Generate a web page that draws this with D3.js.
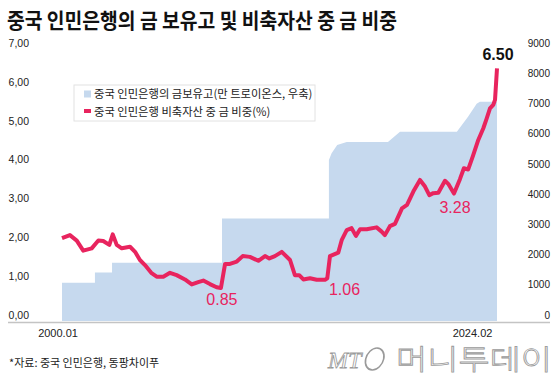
<!DOCTYPE html>
<html>
<head>
<meta charset="utf-8">
<script src="https://cdn.jsdelivr.net/npm/d3@7"></script>
<style>
  body { margin: 0; background: #fff; }
  svg { font-family: "Liberation Sans", Arial, sans-serif; }
</style>
</head>
<body>
<svg id="chart" width="560" height="384"></svg>
<script>
// 중국 인민은행 금보유고 (만 트로이온스, 우축)
var goldYears = [2000.00, 2001.83, 2001.83, 2002.78, 2002.78, 2008.89, 2008.89, 2014.83, 2014.83,
                 2014.98, 2015.29, 2015.82, 2018.11, 2018.78, 2021.94, 2022.56, 2023.04, 2023.22, 2024.17];
var goldValues = [1267, 1267, 1608, 1608, 1929, 1929, 3389, 3389, 5331,
                  5550, 5820, 5924, 5924, 6264, 6264, 6760, 7190, 7258, 7258];

// 비축자산 중 금 비중 (%)
var shareYears = [2000.00, 2000.44, 2000.82, 2001.18, 2001.65, 2002.02, 2002.29, 2002.63, 2002.82, 2003.04,
                  2003.32, 2003.78, 2004.06, 2004.33, 2004.61, 2004.98, 2005.26, 2005.63, 2006.00, 2006.37,
                  2006.83, 2007.21, 2007.57, 2007.85, 2008.22, 2008.59, 2008.83, 2009.06, 2009.33, 2009.71,
                  2010.04, 2010.44, 2010.91, 2011.28, 2011.52, 2011.83, 2012.21, 2012.67, 2012.94, 2013.18,
                  2013.41, 2013.78, 2014.15, 2014.61, 2014.74, 2014.89, 2015.35, 2015.54, 2015.82, 2016.09,
                  2016.33, 2016.56, 2016.93, 2017.48, 2017.76, 2017.94, 2018.22, 2018.50, 2018.89, 2019.17,
                  2019.52, 2019.89, 2020.17, 2020.41, 2020.63, 2020.91, 2021.28, 2021.46, 2021.78, 2022.11,
                  2022.33, 2022.57, 2022.82, 2023.13, 2023.41, 2023.59, 2023.78, 2023.96, 2024.06, 2024.17];
var shareValues = [2.13, 2.21, 2.07, 1.81, 1.87, 2.07, 2.06, 1.96, 2.23, 1.96,
                   1.87, 1.91, 1.78, 1.57, 1.44, 1.23, 1.14, 1.14, 1.24, 1.18,
                   1.07, 0.94, 1.00, 1.04, 0.95, 0.87, 0.85, 1.47, 1.47, 1.53,
                   1.67, 1.65, 1.55, 1.67, 1.61, 1.67, 1.78, 1.57, 1.18, 1.18,
                   1.07, 1.10, 1.06, 1.06, 1.10, 1.67, 1.76, 2.08, 2.34, 2.39,
                   2.19, 2.36, 2.36, 2.41, 2.30, 2.21, 2.44, 2.50, 2.90, 2.99,
                   3.33, 3.63, 3.46, 3.24, 3.29, 3.30, 3.61, 3.53, 3.28, 3.65,
                   3.93, 3.90, 4.23, 4.66, 4.96, 5.20, 5.47, 5.56, 5.69, 6.50];

var leftTicks = [0, 1, 2, 3, 4, 5, 6, 7];
var rightTicks = [0, 1000, 2000, 3000, 4000, 5000, 6000, 7000, 8000, 9000];
var xTickYears = [2000.00, 2024.17];
var xTickLabels = ['2000.01', '2024.02'];

// 주요 값 표시 (최저점, 최신값)
var calloutYears = [2008.83, 2014.61, 2021.78, 2024.17];
var calloutValues = [0.85, 1.06, 3.28, 6.50];

var title = '중국 인민은행의 금 보유고 및 비축자산 중 금 비중';
var legendLabels = ['중국 인민은행의 금보유고(만 트로이온스, 우축)', '중국 인민은행 비축자산 중 금 비중(%)'];
var source = '*자료: 중국 인민은행, 동팡차이푸';

var pink = '#e8245e',
    blue = '#c6d9ee',
    krFont = '"Noto Sans CJK KR", sans-serif';

var svg = d3.select('#chart');

var x = d3.scaleLinear().domain([2000, 2024.17]).range([62, 497]),
    yLeft = d3.scaleLinear().domain([0, 7]).range([321, 49]),
    yRight = d3.scaleLinear().domain([0, 9000]).range([321, 49]);

// title
svg.append('text')
    .attr('x', 7).attr('y', 28)
    .attr('textLength', 390).attr('lengthAdjust', 'spacingAndGlyphs')
    .style('font-family', krFont).style('font-weight', 'bold').style('font-size', '21px')
    .style('fill', '#111')
    .text(title);

// gold reserve area
var goldData = goldYears.map(function(d, i) { return { year: d, value: goldValues[i] }; });
var area = d3.area()
    .x(function(d) { return x(d.year); })
    .y0(yRight(0))
    .y1(function(d) { return yRight(d.value); });

svg.append('path').datum(goldData)
    .attr('d', area)
    .style('fill', blue);

// baseline
svg.append('line')
    .attr('x1', 8).attr('x2', 550)
    .attr('y1', yLeft(0) + 1.5).attr('y2', yLeft(0) + 1.5)
    .style('stroke', '#c4c4c4').style('stroke-width', 1.5);

// gold share line
var shareData = shareYears.map(function(d, i) { return { year: d, value: shareValues[i] }; });
var line = d3.line()
    .x(function(d) { return x(d.year); })
    .y(function(d) { return yLeft(d.value); });

svg.append('path').datum(shareData)
    .attr('d', line)
    .style('fill', 'none').style('stroke', pink)
    .style('stroke-width', 4).style('stroke-linejoin', 'round');

// axes
var leftAxis = d3.axisLeft(yLeft).tickValues(leftTicks).tickSize(0).tickPadding(0)
    .tickFormat(function(d) { return d3.format('.2f')(d).replace('.', ','); });
var gl = svg.append('g').attr('transform', 'translate(29,0)').call(leftAxis);
gl.select('.domain').remove();
gl.selectAll('text').attr('y', -6).style('font-size', '10.5px').style('fill', '#222')
    .style('font-family', '"Liberation Sans", Arial, sans-serif');

var rightAxis = d3.axisRight(yRight).tickValues(rightTicks).tickSize(0).tickPadding(0)
    .tickFormat(d3.format('d'));
var gr = svg.append('g').attr('transform', 'translate(550,0)').call(rightAxis);
gr.select('.domain').remove();
gr.selectAll('text').attr('y', -6).attr('x', 0).style('text-anchor', 'end')
    .style('font-size', '10px').style('fill', '#222')
    .style('font-family', '"Liberation Sans", Arial, sans-serif');

var bottomAxis = d3.axisBottom(x).tickValues(xTickYears).tickSize(0).tickPadding(0)
    .tickFormat(function(d, i) { return xTickLabels[i]; });
var gb = svg.append('g').attr('transform', 'translate(0,' + (yLeft(0) + 8) + ')').call(bottomAxis);
gb.select('.domain').remove();
gb.selectAll('text')
    .attr('dx', function(d, i) { return i === 0 ? -4.5 : -25; })
    .style('font-size', '11px').style('fill', '#222')
    .style('font-family', '"Liberation Sans", Arial, sans-serif');

// callouts
svg.selectAll('.callout').data(calloutValues).enter().append('text')
    .attr('class', 'callout')
    .attr('x', function(d, i) { return x(calloutYears[i]) + (i === 1 ? 4 : 1); })
    .attr('y', function(d, i) { return yLeft(d) + [17.5, 15.5, 19, -8][i]; })
    .style('text-anchor', function(d, i) { return i === 1 ? 'start' : 'middle'; })
    .style('font-size', '16px')
    .style('font-weight', function(d, i) { return i === 3 ? 'bold' : 'normal'; })
    .style('fill', function(d, i) { return i === 3 ? '#111' : pink; })
    .text(function(d) { return d3.format('.2f')(d); });

// legend
var legend = svg.append('g').attr('transform', 'translate(74,85)');
legend.append('rect')
    .attr('width', 241).attr('height', 36)
    .style('fill', '#fff').style('stroke', '#e2e2e2');
legend.append('rect').attr('x', 10).attr('y', 5.5).attr('width', 7).attr('height', 7).style('fill', blue);
legend.append('rect').attr('x', 10).attr('y', 24).attr('width', 7).attr('height', 4).style('fill', pink);
legend.selectAll('.lbl').data(legendLabels).enter().append('text')
    .attr('class', 'lbl')
    .attr('x', 20).attr('y', function(d, i) { return 13 + i * 17.5; })
    .style('font-family', krFont).style('font-size', '11.3px').style('fill', '#222')
    .text(function(d) { return d; });

// source
svg.append('text')
    .attr('x', 9).attr('y', 367)
    .style('font-family', krFont).style('font-size', '11px').style('fill', '#222')
    .text(source);

// watermark
var wm = svg.append('g').style('fill', '#fff').style('stroke', '#9a9a9a').style('stroke-width', 0.8);
wm.append('text').attr('x', 328).attr('y', 368)
    .style('font-family', '"Liberation Serif", serif').style('font-style', 'italic').style('font-size', '24px')
    .text('MT');
wm.append('ellipse').attr('cx', 375).attr('cy', 359).attr('rx', 9).attr('ry', 11)
    .attr('transform', 'skewX(-12) translate(76,0)')
    .style('fill', 'none').style('stroke-width', 1.6);
wm.append('text').attr('x', 396).attr('y', 370)
    .attr('textLength', 156).attr('lengthAdjust', 'spacingAndGlyphs')
    .style('font-family', krFont).style('font-weight', '300').style('font-size', '28px')
    .text('머니투데이');
</script>
</body>
</html>
